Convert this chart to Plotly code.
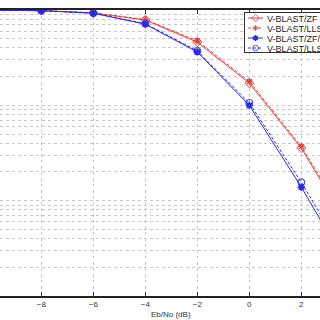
import plotly.graph_objects as go

snr = [-10, -8, -6, -4, -2, 0, 2, 4]
ber_zf = [0.995, 0.985, 0.93, 0.785, 0.46, 0.171, 0.0356, 0.0044]
ber_lls = [0.995, 0.985, 0.935, 0.795, 0.475, 0.178, 0.037, 0.0048]
ber_zf_ic = [0.995, 0.985, 0.925, 0.71, 0.363, 0.10, 0.0139, 0.0016]
ber_lls_ic = [0.995, 0.985, 0.93, 0.72, 0.372, 0.106, 0.0156, 0.0019]
names = ["V-BLAST/ZF", "V-BLAST/LLSE", "V-BLAST/ZF/IC", "V-BLAST/LLSE/IC"]
x_ticks = [-10, -8, -6, -4, -2, 0, 2, 4]
y_major = [1e-3, 1e-2, 1e-1, 1]
y_minor = [m * d for d in [1e-3, 1e-2, 1e-1] for m in range(2, 10)]

red = "#e8403c"
blue = "#2a2ae8"

fig = go.Figure()
fig.add_trace(go.Scatter(x=snr, y=ber_zf, name=names[0], mode="lines+markers",
                         line=dict(color=red, width=1),
                         marker=dict(symbol="diamond-open", size=7, color=red, line=dict(width=1))))
fig.add_trace(go.Scatter(x=snr, y=ber_lls, name=names[1], mode="lines+markers",
                         line=dict(color=red, width=1, dash="3px,2px"),
                         marker=dict(symbol="asterisk-open", size=6, color=red, line=dict(width=1.2, color=red))))
fig.add_trace(go.Scatter(x=snr, y=ber_zf_ic, name=names[2], mode="lines+markers",
                         line=dict(color=blue, width=1),
                         marker=dict(symbol="asterisk-open", size=6, color=blue, line=dict(width=1.8, color=blue))))
fig.add_trace(go.Scatter(x=snr, y=ber_lls_ic, name=names[3], mode="lines+markers",
                         line=dict(color=blue, width=1, dash="3px,2px"),
                         marker=dict(symbol="circle-open", size=7, color=blue, line=dict(width=1))))

fig.add_annotation(x=-3, y=0, xref="x", yref="paper", yanchor="top", yshift=-12,
                   text="Eb/No (dB)", showarrow=False,
                   font=dict(family="Liberation Sans, Arial", size=8, color="#333"))

fig.update_layout(
    width=320, height=320,
    margin=dict(l=0, r=0, t=10, b=24, autoexpand=False),
    paper_bgcolor="white", plot_bgcolor="white",
    font=dict(family="Liberation Sans, Arial", size=8, color="#333"),
    showlegend=True,
    legend=dict(x=0.7625, y=0.993, xanchor="left", yanchor="top",
                bgcolor="white", bordercolor="#333", borderwidth=1,
                font=dict(size=9, color="#222"), tracegroupgap=0,
                itemwidth=30),
    xaxis=dict(range=[-9.588, 2.719], tickvals=x_ticks, ticks="inside", ticklen=4,
               tickcolor="#333", showline=True, linecolor="#222", linewidth=1.5,
               mirror="ticks", showgrid=True, gridcolor="#c8c8c8", griddash="dot",
               gridwidth=1, zeroline=False, tickfont=dict(size=8, color="#333")),
    yaxis=dict(type="log", range=[-3, 0], tickvals=y_major, showticklabels=False,
               ticks="", showline=False, showgrid=True, gridcolor="#c8c8c8",
               griddash="dot", gridwidth=1, zeroline=False,
               minor=dict(tickvals=y_minor, showgrid=True, gridcolor="#c8c8c8",
                          griddash="dot", gridwidth=1, ticks="")),
)

# compact the legend rows (MATLAB-style tight legend)
post = """
var gd = document.getElementById('{plot_id}');
var rowH = 10, top0 = 6;
gd.querySelectorAll('.legend .groups').forEach(function(g){ g.setAttribute('transform', 'translate(0,0)'); });
gd.querySelectorAll('.legend .traces').forEach(function(el, i){
  el.setAttribute('transform', 'translate(0,' + (top0 + rowH*i) + ')');
  el.querySelectorAll('.legendlines path').forEach(function(p){ p.setAttribute('d', 'M4,0h15'); });
  el.querySelectorAll('.legendpoints path').forEach(function(p){ p.setAttribute('transform', 'translate(11.5,0) scale(0.8)'); });
  var t = el.querySelector('text.legendtext'); if (t) { t.setAttribute('x', 23); }
});
var bg = gd.querySelector('.legend rect.bg');
if (bg) { bg.setAttribute('height', 40); bg.setAttribute('width', 120); }
"""

fig.write_html("out.html", post_script=post)
